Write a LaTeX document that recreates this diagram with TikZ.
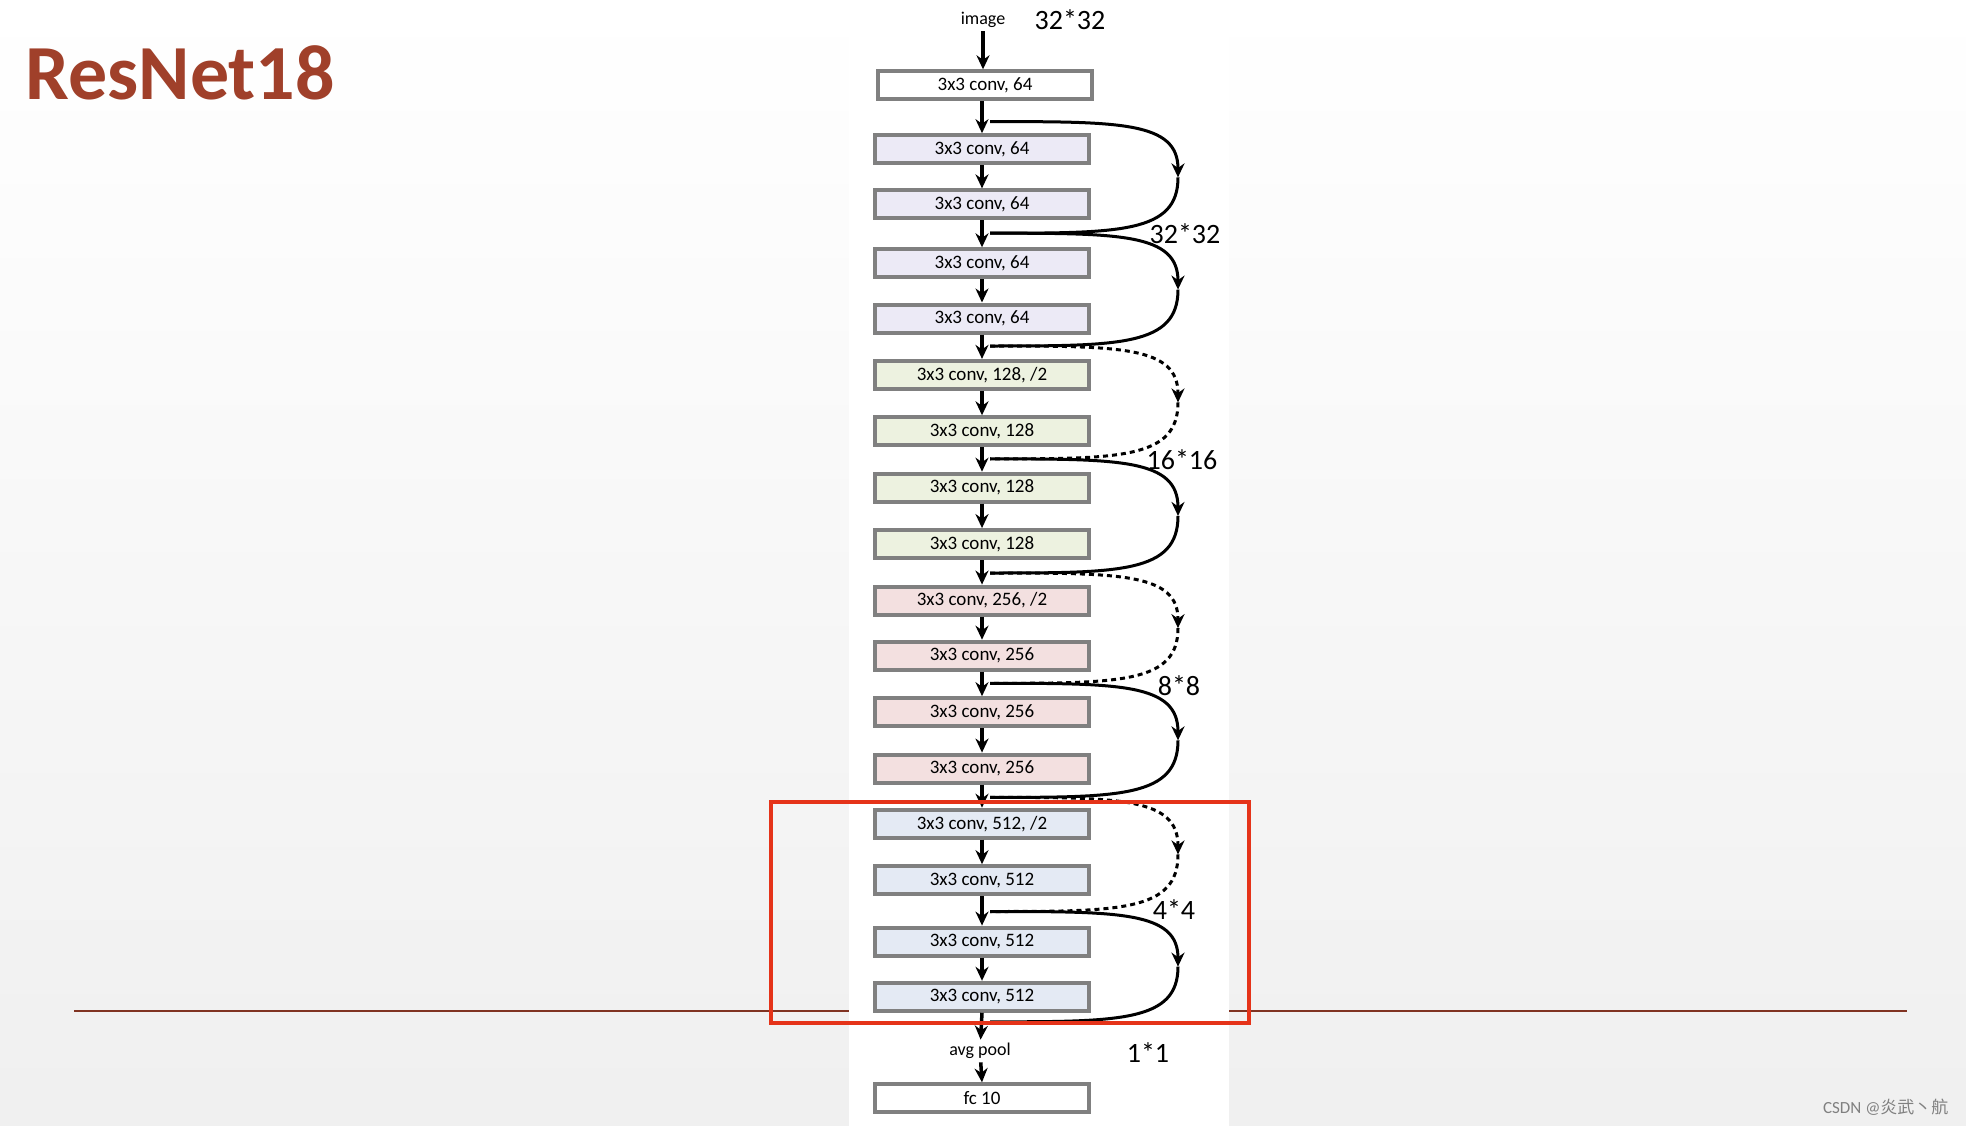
\documentclass[tikz,border=0pt]{standalone}
\usepackage{fontspec}
\setmainfont{Carlito}
\newfontfamily\cjk{Noto Sans CJK SC}
\usetikzlibrary{arrows.meta}
\definecolor{titlered}{RGB}{160,64,42}
\definecolor{c64}{RGB}{236,234,246}
\definecolor{c128}{RGB}{237,242,224}
\definecolor{c256}{RGB}{243,224,224}
\definecolor{c512}{RGB}{228,234,244}
\definecolor{bord}{RGB}{128,128,128}
\begin{document}
\begin{tikzpicture}[x=1pt,y=-1pt,
  blk/.style={draw=bord,line width=4pt,minimum width=214pt,minimum height=28pt,inner sep=0pt,font=\fontsize{19}{20}\selectfont},
  arr/.style={line width=3.5pt,-{Stealth[length=14pt,width=13pt]}},
  skip/.style={line width=3pt},
  dsh/.style={dash pattern=on 5pt off 4pt},
  sol/.style={solid},
  lab/.style={font=\fontsize{28}{30}\selectfont}]
\useasboundingbox (0,0) rectangle (1966,1126);
\shade[top color=white,bottom color=black!6] (0,0) rectangle (1966,1126);
\fill[white] (849,0) rectangle (1229,1126);
\draw[titlered!80!black,line width=2pt] (74,1011) -- (849,1011) (1229,1011) -- (1907,1011);
\node[anchor=base west,text=titlered,font=\fontsize{78}{80}\selectfont\bfseries] (title) at (22,100) {ResNet18};
\node[font=\fontsize{18}{20}\selectfont] (img) at (983,20) {image};
\node[lab] (l0) at (1070,20) {32*32};
\node[blk,fill=white] (b1) at (985,85.3) {3x3 conv, 64};
\foreach \i/\y/\t/\c in {2/149.2/{3x3 conv, 64}/c64,3/204.4/{3x3 conv, 64}/c64,4/263.3/{3x3 conv, 64}/c64,5/318.5/{3x3 conv, 64}/c64,
 6/374.9/{3x3 conv, 128, /2}/c128,7/431.3/{3x3 conv, 128}/c128,8/487.7/{3x3 conv, 128}/c128,9/544.1/{3x3 conv, 128}/c128,
 10/600.6/{3x3 conv, 256, /2}/c256,11/655.7/{3x3 conv, 256}/c256,12/712.2/{3x3 conv, 256}/c256,13/768.6/{3x3 conv, 256}/c256,
 14/823.7/{3x3 conv, 512, /2}/c512,15/880.2/{3x3 conv, 512}/c512,16/941.6/{3x3 conv, 512}/c512,17/996.8/{3x3 conv, 512}/c512}
 {\node[blk,fill=\c] (b\i) at (982,\y) {\t};}
\node[font=\fontsize{18}{20}\selectfont] (avg) at (980,1051) {avg pool};
\node[blk,fill=white] (fc) at (982,1098.3) {fc 10};
\draw[arr] (img) -- (img|-b1.north);
\foreach \a/\b in {1/2,2/3,3/4,4/5,5/6,6/7,7/8,8/9,9/10,10/11,11/12,12/13,13/14,14/15,15/16,16/17}
  {\draw[arr] (982,0|-b\a.south) -- (982,0|-b\b.north);}
\draw[arr] (982,0|-b17.south) -- (avg);
\draw[arr] (avg) -- (982,0|-fc.north);
\foreach \k/\y in {0/121.6,1/233.2,2/346,3/458.9,4/573,5/683.3,6/797.4,7/911.5,8/1021.8}
  {\coordinate (j\k) at (990,\y);}
\foreach \k/\n/\s in {0/1/sol,1/2/sol,2/3/dsh,3/4/sol,4/5/dsh,5/6/sol,6/7/dsh,7/8/sol}{
  \path (j\k) -- (j\n) coordinate[pos=0.5] (mid\k);
  \coordinate (mm\k) at (1178,0|-mid\k);
  \draw[skip,\s,-{Stealth[length=14pt,width=13pt]}] (j\k) .. controls (1120,0|-j\k) and (1178,0|-j\k) .. (mm\k);
  \draw[skip,\s] (mm\k) .. controls (1178,0|-j\n) and (1120,0|-j\n) .. (j\n);
}
\node[lab] (l1) at (1185,234) {32*32};
\node[lab] (l2) at (1182,460) {16*16};
\node[lab] (l3) at (1179,686) {8*8};
\node[lab] (l4) at (1174,910) {4*4};
\node[lab] (l5) at (1148,1053) {1*1};
\draw[red!60!brown,line width=4pt] (771,802) rectangle (1249,1023);
\node[anchor=east,text=black!50,font=\fontsize{17}{18}\selectfont] (csdn) at (1952,1107) {CSDN @{\cjk 炎武丶航}};
\end{tikzpicture}
\end{document}
